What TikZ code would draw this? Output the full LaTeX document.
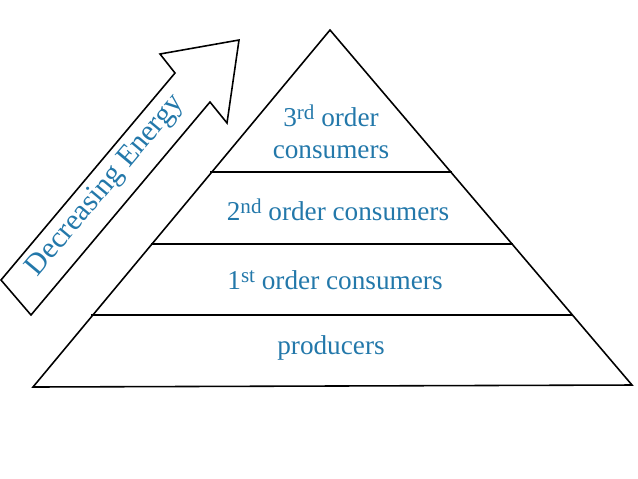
\documentclass[tikz,border=0pt]{standalone}
\usepackage{fontspec}
\setmainfont{Liberation Serif}
\definecolor{lbl}{RGB}{35,120,170}
\newcommand{\mysup}[1]{\raisebox{0.55ex}{\fontsize{12}{14}\selectfont #1}}
\begin{document}
\begin{tikzpicture}[x=0.02cm,y=-0.02cm,
  lab/.style={text=lbl,font=\fontsize{15.5}{18}\selectfont,align=center},
  ln/.style={draw=black,line width=0.9pt}]
\useasboundingbox (0,0) rectangle (638,478);
\coordinate (A) at (330,30);
\coordinate (L) at (33,387);
\coordinate (R) at (632,385);
\draw[ln,line join=miter] (L) -- (A) -- (R) -- cycle;
\draw[ln] (210,172) -- (452,172);
\draw[ln] (151,244) -- (513,244);
\draw[ln] (91,315) -- (572,315);
\node[lab] (t3) at (331,132) {3\mysup{rd} order\\consumers};
\node[lab] (t2) at (338,210) {2\mysup{nd} order consumers};
\node[lab] (t1) at (335,280) {1\mysup{st} order consumers};
\node[lab] (t0) at (331,348) {producers};
\draw[line width=0.9pt] (1,280) -- (31,315) -- (210,102) -- (227,123) -- (239,40) -- (160,54) -- (175,73) -- cycle;
\node[lab,rotate=50,font=\fontsize{17}{19}\selectfont] (de) at (106,186) {Decreasing Energy};
\end{tikzpicture}
\end{document}
